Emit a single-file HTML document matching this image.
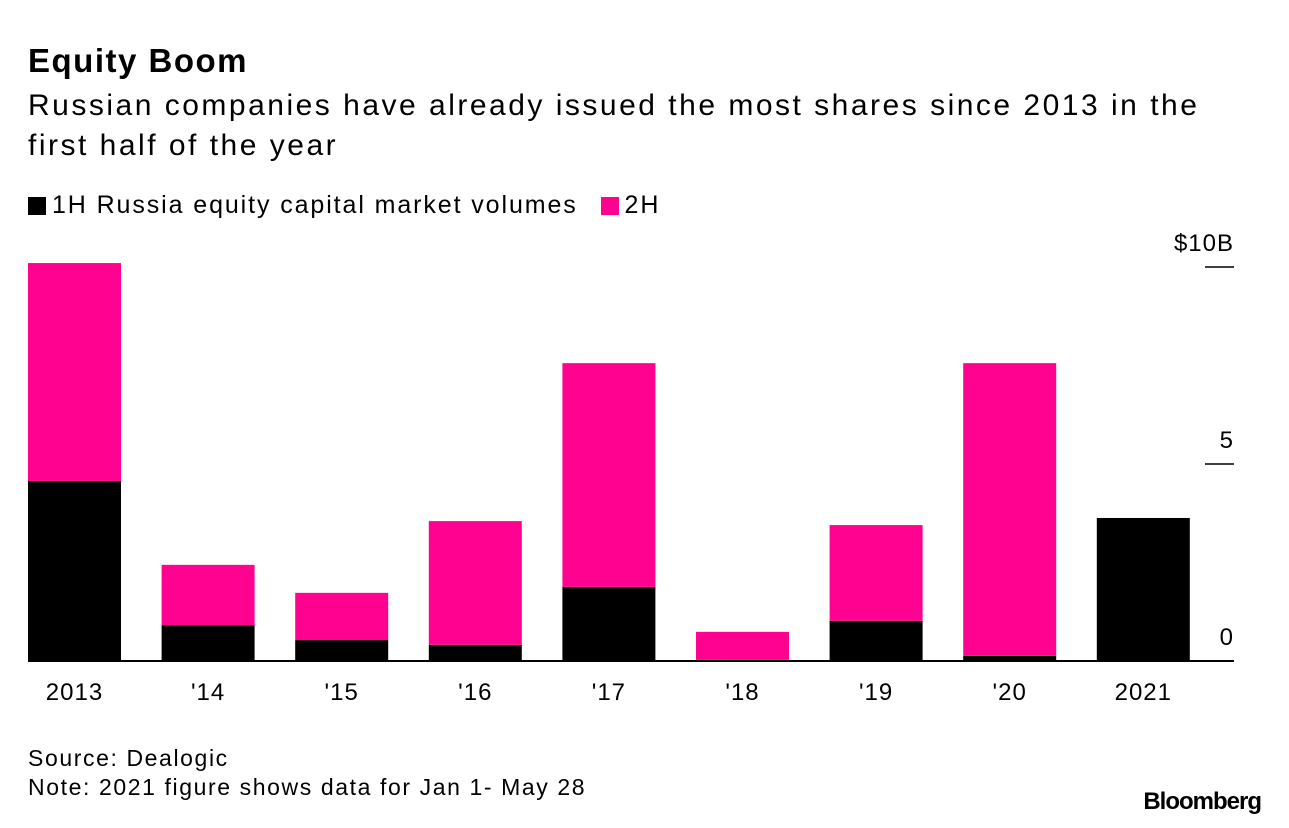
<!DOCTYPE html>
<html><head><meta charset="utf-8"><style>
body{margin:0;width:1289px;height:828px;background:#fff;font-family:"Liberation Sans",sans-serif;color:#000;position:relative;overflow:hidden}
.t{position:absolute;white-space:nowrap}
</style></head><body>
<div class="t" style="left:28px;top:42px;font-size:33px;font-weight:bold;letter-spacing:1.5px">Equity Boom</div>
<div class="t" style="left:28px;top:86px;font-size:30px;line-height:40px;letter-spacing:2.5px;white-space:normal;width:1215px">Russian companies have already issued the most shares since 2013 in the first half of the year</div>
<div class="t" style="left:28px;top:191px;font-size:25px;letter-spacing:1.9px">
<span><span style="display:inline-block;width:18px;height:18px;background:#000;vertical-align:-2px;margin-right:6px"></span>1H Russia equity capital market volumes</span>
<span style="margin-left:14px"><span style="display:inline-block;width:18px;height:18px;background:#ff0390;vertical-align:-2px;margin-right:6px"></span>2H</span>
</div>
<svg id="chart" width="1289" height="828" style="position:absolute;left:0;top:0"></svg>
<div class="t" style="left:28px;top:744px;font-size:23px;line-height:29px;letter-spacing:1.6px">Source: Dealogic<br>Note: 2021 figure shows data for Jan 1- May 28</div>
<div class="t" style="right:28px;top:788px;font-size:24px;font-weight:bold;letter-spacing:-1px">Bloomberg</div>
<script>
const categories=["2013","'14","'15","'16","'17","'18","'19","'20","2021"];
const firstHalf=[4.57,0.91,0.53,0.41,1.88,0.03,1.02,0.13,3.63];
const secondHalf=[5.53,1.53,1.2,3.14,5.68,0.71,2.43,7.43,0];
const tickValues=[0,5,10];
const tickLabels=["0","5","$10B"];
const svg=document.getElementById('chart');
const NS='http://www.w3.org/2000/svg';
const y=v=>661-v*39.4;
const xc=i=>74.5+i*133.6;
const bw=93;
function mk(tag,attrs){const e=document.createElementNS(NS,tag);for(const k in attrs)e.setAttribute(k,attrs[k]);svg.appendChild(e);return e;}
categories.forEach((c,i)=>{
 const b1=mk('rect',{x:xc(i)-bw/2,y:y(firstHalf[i]),width:bw,height:firstHalf[i]*39.4,fill:'#000'});
 
 
 const b2=mk('rect',{x:xc(i)-bw/2,y:y(firstHalf[i]+secondHalf[i]),width:bw,height:secondHalf[i]*39.4,fill:'#ff0390'});
 
 
 const t=mk('text',{x:xc(i),y:700,'text-anchor':'middle','font-size':24,'letter-spacing':1,'font-family':'Liberation Sans, sans-serif'});
 t.textContent=c;
 
 
});
tickValues.forEach((v,i)=>{
 if(v>0){const l=mk('line',{x1:1205,x2:1234,y1:y(v),y2:y(v),stroke:'#000','stroke-width':1.5});
 
 }
 const t=mk('text',{x:1234,y:y(v)-16,'text-anchor':'end','font-size':24,'letter-spacing':1,'font-family':'Liberation Sans, sans-serif'});
 t.textContent=tickLabels[i];
 
 
});
const base=mk('line',{x1:28,x2:1234,y1:661,y2:661,stroke:'#000','stroke-width':2});


</script>
</body></html>
